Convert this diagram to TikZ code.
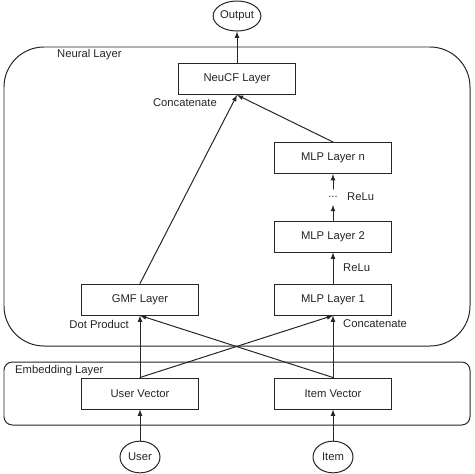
\documentclass[tikz,border=0pt]{standalone}
\usepackage{fontspec}
\setmainfont{Liberation Sans}
\usetikzlibrary{shapes.geometric}

\begin{document}
\begin{tikzpicture}[x=0.03cm,y=-0.03cm,>=latex,line cap=round,
        every node/.style={font=\fontsize{9.6}{11}\selectfont,text=black!85},
        layer/.style={draw=black!85,line width=0.85pt,fill=white,minimum width=3.51cm,minimum height=0.93cm,inner sep=0pt},
        io/.style={ellipse,draw=black!85,line width=0.85pt,fill=white,minimum width=1.2cm,minimum height=0.95cm,inner sep=0pt},
        conn/.style={->,draw=black!85,line width=0.85pt}]
            \useasboundingbox (0,0) rectangle (474,474);

            % draw the two layer frames
            \draw[black!85,line width=0.85pt,rounded corners=1.2cm] (4,47) rectangle (470,346);
            \draw[black!85,line width=0.85pt,rounded corners=0.25cm] (4,362) rectangle (470,425);
            \node (neural) [anchor=west] at (53,55) {Neural Layer};
            \node (embed) [anchor=west] at (11,371) {Embedding Layer};

            % inputs and output
            \node (output) [io,minimum height=0.9cm] at (237,16) {Output};
            \node (user) [io] at (140,457) {User};
            \node (item) [io] at (333,457) {Item};

            % the layer boxes
            \node (neucf) [layer] at (237,79) {NeuCF Layer};
            \node (mlpn) [layer] at (333,158) {MLP Layer n};
            \node (mlp2) [layer] at (333,236.5) {MLP Layer 2};
            \node (mlp1) [layer] at (333,299.5) {MLP Layer 1};
            \node (gmf) [layer] at (140,299.5) {GMF Layer};
            \node (uvec) [layer] at (140,393.5) {User Vector};
            \node (ivec) [layer] at (333,393.5) {Item Vector};
            \node (dots) [inner sep=0pt,minimum height=0.46cm] at (333,197) {...};

            % text next to the arrows
            \node (concattop) [anchor=east] at (221,103) {Concatenate};
            \node (relun) [anchor=west] at (343,197) {ReLu};
            \node (relu2) [anchor=west] at (339,268) {ReLu};
            \node (dotprod) [anchor=east] at (133,324) {Dot Product};
            \node (concatlow) [anchor=west] at (339,324) {Concatenate};

            % arrows
            \draw[conn] (user) -- (uvec);
            \draw[conn] (item) -- (ivec);
            \draw[conn] (uvec) -- (gmf);
            \draw[conn] (ivec) -- (mlp1);
            \draw[conn] (uvec.north) -- (mlp1.south);
            \draw[conn] (ivec.north) -- (gmf.south);
            \draw[conn] (mlp1) -- (mlp2);
            \draw[conn] (mlp2) -- (dots);
            \draw[conn] (dots) -- (mlpn);
            \draw[conn] (gmf.north) -- (neucf.south);
            \draw[conn] (mlpn.north) -- (neucf.south);
            \draw[conn] (neucf) -- (output);
        \end{tikzpicture}
\end{document}
